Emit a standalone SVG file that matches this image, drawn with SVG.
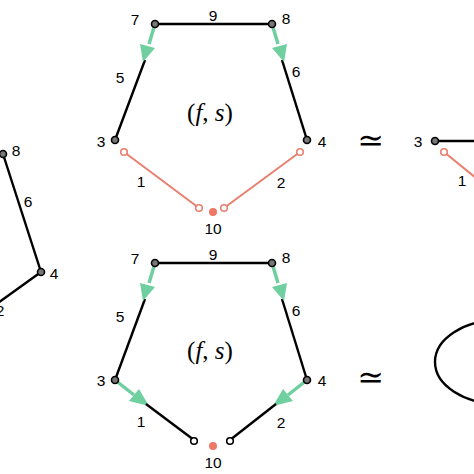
<svg xmlns="http://www.w3.org/2000/svg" width="474" height="474" viewBox="0 0 474 474">
<style>
.e{stroke:#000;stroke-width:2.4;fill:none}
.r{stroke:#e8806f;stroke-width:2;fill:none}
.g{stroke:#6fcf9f;stroke-width:3.5;fill:none}
.gh{fill:#6fcf9f}
.n{fill:#777;stroke:#000;stroke-width:1.6}
.o{fill:#fff;stroke:#000;stroke-width:1.6}
.or{fill:#fff;stroke:#e8806f;stroke-width:1.6}
.d{fill:#ee7766}
text{font-family:"Liberation Sans",Arial,sans-serif;font-size:15.5px;fill:#000;text-anchor:middle;dominant-baseline:central}
.m{font-family:"Liberation Serif","Times New Roman",serif;font-size:25px}
.m tspan.i{font-style:italic}
.s{font-family:"DejaVu Serif",serif;font-size:32px}
</style>
<g id="connectors">
<path class="e" d="M3,154 L41,272 L-2,303"/>
<path class="e" d="M155,24 L272,24"/>
<path class="e" d="M145,60 L115,140"/>
<path class="e" d="M282,60 L307,140"/>
<path class="g" d="M155,24 L149,44"/>
<polygon class="gh" points="143,62 140,44 155,48"/>
<path class="g" d="M272,24 L278,44"/>
<polygon class="gh" points="284,62 272,48 287,44"/>
<path class="r" d="M124,152 L199,208"/>
<path class="r" d="M300,152 L224,208"/>
<path class="e" d="M155,263 L272,263"/>
<path class="e" d="M145,299 L115,380"/>
<path class="e" d="M282,299 L307,380"/>
<path class="g" d="M155,263 L149,283"/>
<polygon class="gh" points="143,301 140,283 155,287"/>
<path class="g" d="M272,263 L278,283"/>
<polygon class="gh" points="284,301 272,287 287,283"/>
<path class="g" d="M115,380 L134,395"/>
<polygon class="gh" points="149,406 129,401 139,389"/>
<path class="g" d="M307,380 L288,395"/>
<polygon class="gh" points="273,406 283,389 293,401"/>
<path class="e" d="M146,404 L194,440"/>
<path class="e" d="M276,404 L230,440"/>
<path class="e" d="M435,141 L476,141"/>
<path class="r" d="M444,152 L476,178"/>
<ellipse class="e" cx="500" cy="362" rx="65" ry="42"/>
</g>
<g id="left-fragment">
<circle class="n" cx="3" cy="154" r="3.5"/>
<text x="16" y="150">8</text>
<text x="28" y="201">6</text>
<circle class="n" cx="41" cy="272" r="3.5"/>
<text x="54" y="273">4</text>
<text x="0" y="310">2</text>
</g>
<g id="top-pentagon">
<circle class="n" cx="155" cy="24" r="3.5"/>
<circle class="n" cx="272" cy="24" r="3.5"/>
<circle class="n" cx="115" cy="140" r="3.5"/>
<circle class="n" cx="307" cy="140" r="3.5"/>
<circle class="or" cx="124" cy="152" r="3.3"/>
<circle class="or" cx="300" cy="152" r="3.3"/>
<circle class="or" cx="199" cy="208" r="3.3"/>
<circle class="or" cx="224" cy="208" r="3.3"/>
<circle class="d" cx="213" cy="212" r="4"/>
<text x="135" y="19">7</text>
<text x="213" y="15">9</text>
<text x="286" y="18">8</text>
<text x="120" y="77">5</text>
<text x="296" y="71">6</text>
<text x="101" y="141">3</text>
<text x="322" y="141">4</text>
<text x="141" y="181">1</text>
<text x="281" y="182">2</text>
<text x="213" y="228">10</text>
<text class="m" x="210" y="112">(<tspan class="i">f</tspan>, <tspan class="i">s</tspan>)</text>
</g>
<g id="bottom-pentagon">
<circle class="n" cx="155" cy="263" r="3.5"/>
<circle class="n" cx="272" cy="263" r="3.5"/>
<circle class="n" cx="115" cy="380" r="3.5"/>
<circle class="n" cx="307" cy="380" r="3.5"/>
<circle class="o" cx="194" cy="441" r="3.3"/>
<circle class="o" cx="230" cy="441" r="3.3"/>
<circle class="d" cx="213" cy="446" r="4"/>
<text x="135" y="258">7</text>
<text x="213" y="254">9</text>
<text x="286" y="257">8</text>
<text x="120" y="316">5</text>
<text x="296" y="310">6</text>
<text x="101" y="380">3</text>
<text x="322" y="380">4</text>
<text x="141" y="421">1</text>
<text x="281" y="422">2</text>
<text x="213" y="462">10</text>
<text class="m" x="210" y="350">(<tspan class="i">f</tspan>, <tspan class="i">s</tspan>)</text>
</g>
<g id="right-fragments">
<text class="s" x="371" y="140">≃</text>
<text class="s" x="371" y="377">≃</text>
<circle class="n" cx="435" cy="141" r="3.5"/>
<text x="418" y="141">3</text>
<circle class="or" cx="444" cy="152" r="3.3"/>
<text x="462" y="180">1</text>
</g>
</svg>
